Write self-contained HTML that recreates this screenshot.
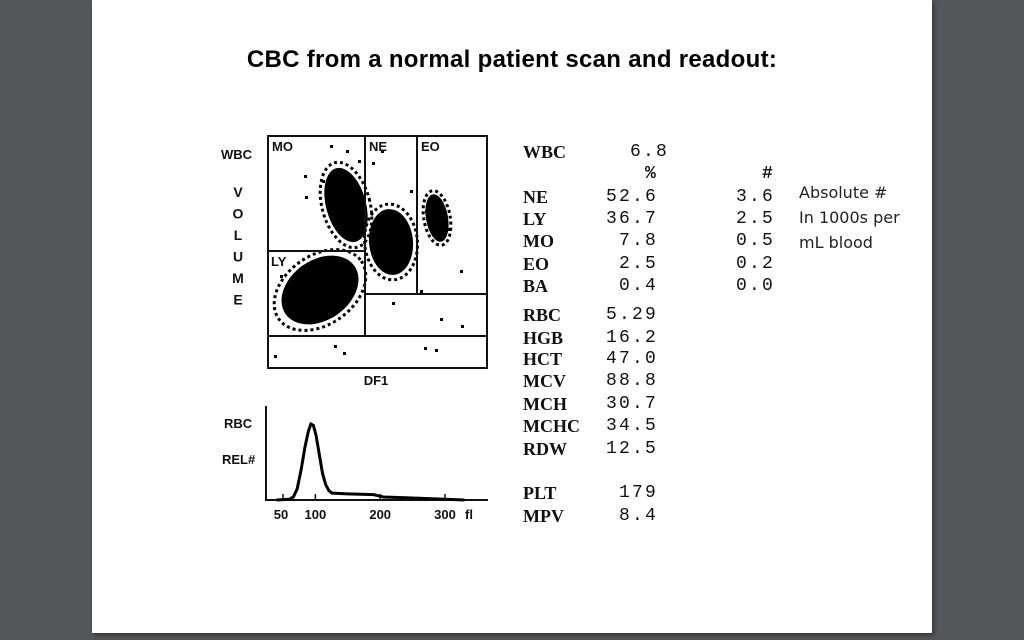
<!DOCTYPE html>
<html><head><meta charset="utf-8"><style>
body{margin:0;width:1024px;height:640px;background:#53575b;position:relative;overflow:hidden;font-family:"Liberation Sans",sans-serif}
#page{position:absolute;left:92px;top:0;width:840px;height:633px;background:#fff;box-shadow:2px 2px 4px rgba(0,0,0,.4)}
.t{position:absolute;white-space:pre}
.lab{font-family:"Liberation Serif",serif;font-size:18px;color:#111;font-weight:bold}
.num{font-family:"Liberation Mono",monospace;font-size:18px;letter-spacing:2.2px;color:#111;text-align:right}
</style></head><body>
<div id="page"></div>
<div class="t" style="left:0;width:1024px;text-align:center;top:46px;font-size:24px;font-weight:bold;font-family:'Liberation Sans',sans-serif;letter-spacing:0.3px">CBC from a normal patient scan and readout:</div>
<svg id="chart" width="1024" height="640" style="position:absolute;left:0;top:0"></svg>
<div id="tbl"></div>
<div class="t" style="left:799px;top:180px;font-size:16px;line-height:25px;font-family:'DejaVu Sans',sans-serif;color:#222">Absolute #
In 1000s per
mL blood</div>
<script>
const histFl=[40,60,66,72,78,84,89,93,97,101,106,111,116,121,126,150,190,205,240,300,330];
const histRel=[0,1,4,15,40,70,90,100,98,85,60,35,20,12,9,8,7,4,3,1,0];
const histTicks=[50,100,200,300];
const clusterNames=['LY','MO','NE','EO'];
const clusterCx=[320,346,391,437];
const clusterCy=[290,205,242,218];
const clusterRx=[42,20,22,11];
const clusterRy=[30,38,33,24];
const clusterRot=[-35,-15,-5,-10];
const strayX=[330,372,381,425,448,460,461,440,296,334,343,424,435,274,304,280,420,346,392,337,305,322,358,410,284,300];
const strayY=[145,162,150,210,228,270,325,318,310,345,352,347,349,355,175,275,290,150,302,262,196,180,160,190,300,315];
const rows=[['WBC','6.8',''],['','%','#'],['NE','52.6','3.6'],['LY','36.7','2.5'],['MO','7.8','0.5'],['EO','2.5','0.2'],['BA','0.4','0.0'],['RBC','5.29',''],['HGB','16.2',''],['HCT','47.0',''],['MCV','88.8',''],['MCH','30.7',''],['MCHC','34.5',''],['RDW','12.5',''],['PLT','179',''],['MPV','8.4','']];
const rowY=[142,164,187,209,231,254,276,305,328,349,371,394,416,439,483,506];

const NS='http://www.w3.org/2000/svg';
const svg=document.getElementById('chart');
function mk(tag,attrs,name){const e=document.createElementNS(NS,tag);for(const k in attrs)e.setAttribute(k,attrs[k]);


svg.appendChild(e);return e;}
function txt(x,y,s,name,size,anchor){const e=mk('text',{x:x,y:y,'font-family':'Liberation Sans, sans-serif','font-weight':'bold','font-size':size||12,'text-anchor':anchor||'start',fill:'#111'},name);e.textContent=s;return e;}
for(let i=0;i<clusterNames.length;i++){
 const tr=`rotate(${clusterRot[i]} ${clusterCx[i]} ${clusterCy[i]})`;
 mk('ellipse',{cx:clusterCx[i],cy:clusterCy[i],rx:clusterRx[i]*1.2,ry:clusterRy[i]*1.15,fill:'none',stroke:'#000','stroke-width':3,'stroke-dasharray':'3 3',transform:tr},'cluster-fringe-'+clusterNames[i].toLowerCase());
 mk('ellipse',{cx:clusterCx[i],cy:clusterCy[i],rx:clusterRx[i],ry:clusterRy[i],fill:'#000',transform:tr},'cluster-'+clusterNames[i].toLowerCase());
}
for(let i=0;i<strayX.length;i++){mk('rect',{x:strayX[i],y:strayY[i],width:3,height:3,fill:'#000'},'stray-event');}
const g={stroke:'#111','stroke-width':2,fill:'none'};
mk('rect',Object.assign({x:268,y:136,width:219,height:232},g),'scatter-frame');
mk('line',Object.assign({x1:365,y1:136,x2:365,y2:336},g),'mo-ne-divider');
mk('line',Object.assign({x1:417,y1:136,x2:417,y2:294},g),'ne-eo-divider');
mk('line',Object.assign({x1:268,y1:251,x2:365,y2:251},g),'ly-divider');
mk('line',Object.assign({x1:365,y1:294,x2:487,y2:294},g),'ba-top');
mk('line',Object.assign({x1:268,y1:336,x2:487,y2:336},g),'bottom-strip');
txt(221,159,'WBC','wbc-label',13);
'VOLUME'.split('').forEach((c,i)=>txt(238,197+i*21.5,c,'volume-letter',14,'middle'));
txt(272,151,'MO','mo-label',13);txt(369,151,'NE','ne-label',13);txt(421,151,'EO','eo-label',13);txt(271,266,'LY','ly-label',13);
txt(376,385,'DF1','x-axis-title',13,'middle');
const X=fl=>283+(fl-50)*0.648, Y=r=>500-r*0.76;
mk('line',{x1:266,y1:406,x2:266,y2:501,stroke:'#111','stroke-width':2},'hist-y-axis');
mk('line',{x1:265,y1:500,x2:488,y2:500,stroke:'#111','stroke-width':2},'hist-x-axis');
histTicks.forEach(t=>{mk('line',{x1:X(t),y1:494,x2:X(t),y2:500,stroke:'#111','stroke-width':1.5},'hist-tick');txt(X(t)+(t==50?-2:0),519,String(t),'hist-tick-label',13,'middle');});
txt(469,519,'fl','hist-unit',13,'middle');
mk('path',{d:histFl.map((f,i)=>(i?'L':'M')+X(f)+','+Y(histRel[i])).join(' '),stroke:'#000','stroke-width':3,fill:'none'},'rbc-histogram');
txt(224,428,'RBC','hist-rbc-label',13);txt(222,464,'REL#','hist-rel-label',13);
const tbl=document.getElementById('tbl');
rows.forEach((r,i)=>{
 const a=document.createElement('div');a.className='t lab';a.style.left='523px';a.style.top=rowY[i]+'px';a.textContent=r[0];
 
 
 tbl.appendChild(a);
 const b=document.createElement('div');b.className='t num';b.style.right=(i==0?1024-669:1024-658)+'px';b.style.top=rowY[i]+'px';b.textContent=r[1];
 if(i==1){b.style.fontWeight='bold';}
 
 
 tbl.appendChild(b);
 if(r[2]){const c=document.createElement('div');c.className='t num';c.style.right=(1024-775)+'px';c.style.top=rowY[i]+'px';c.textContent=r[2];if(i==1)c.style.fontWeight='bold';
 
 
 tbl.appendChild(c);}
});
</script>
</body></html>
